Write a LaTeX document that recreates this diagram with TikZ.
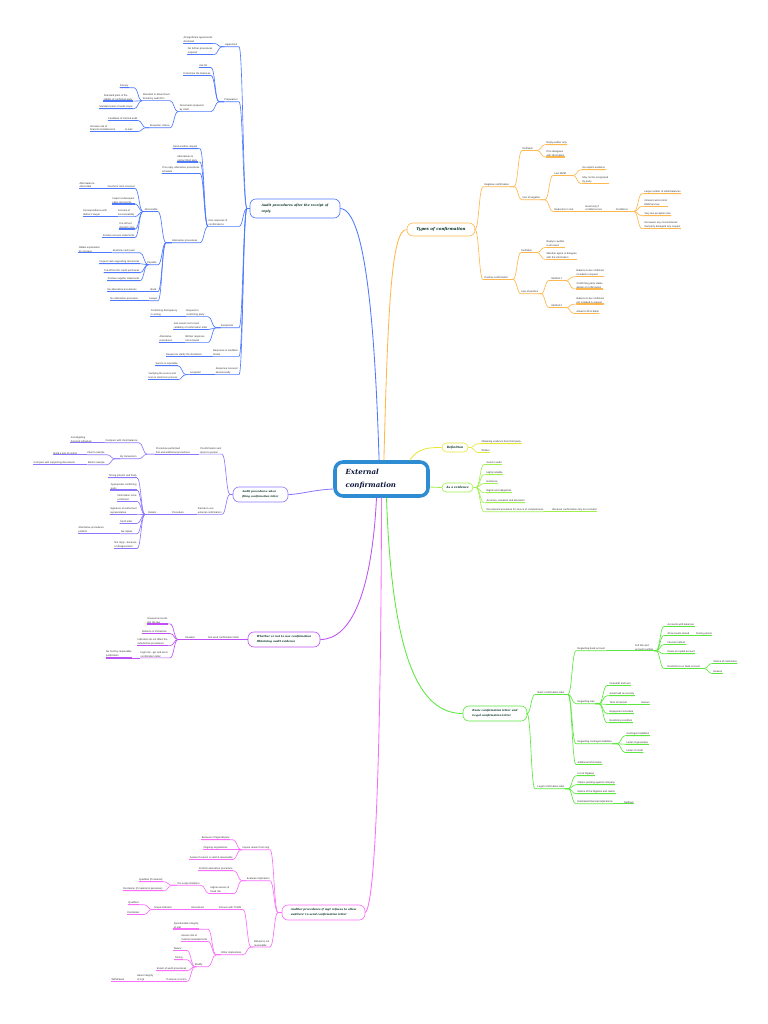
\documentclass[tikz,border=0pt]{standalone}
\usepackage{fontspec}
\setmainfont{Liberation Sans}
\newfontfamily\hdfont{DejaVu Serif}
\definecolor{cbl}{RGB}{77,121,255}
\definecolor{cor}{RGB}{255,184,77}
\definecolor{cye}{RGB}{232,232,60}
\definecolor{cli}{RGB}{160,240,80}
\definecolor{cgr}{RGB}{90,232,60}
\definecolor{clv}{RGB}{140,120,255}
\definecolor{cpu}{RGB}{190,80,245}
\definecolor{cpk}{RGB}{250,110,250}
\definecolor{ctx}{RGB}{50,50,50}
\definecolor{chd}{RGB}{0,45,30}
\definecolor{cce}{RGB}{45,140,210}
\definecolor{cct}{RGB}{15,25,60}
\newcommand\leaffont{\fontsize{3.6}{5.5}\selectfont}
\newcommand\rootfont{\hdfont\bfseries\itshape}
\newcommand\centerfont{\hdfont\bfseries\itshape\fontsize{10}{18}\selectfont}

\begin{document}
\begin{tikzpicture}[x=0.5mm, y=-0.5mm,
  tl/.style={anchor=east, font=\leaffont, text=ctx, inner sep=0.6pt, align=left},
  tr/.style={tl, anchor=west},
  root/.style={draw=#1, fill=white, line width=0.9pt, rounded corners=3mm, text=chd, align=left, inner xsep=1.5mm, inner ysep=0.8mm},
  ln/.style={draw=#1, line width=0.9pt},
  lf/.style={draw=#1, line width=2pt},
  br/.style={draw=#1, line width=1.2pt},
  tkl/.style={to path={-- (\tikztostart -| #1+4,0) .. controls (\tikztostart -| #1,0) and (\tikztotarget -| #1,0) .. (\tikztotarget -| #1-4,0) -- (\tikztotarget)}},
  tkr/.style={to path={-- (\tikztostart -| #1-4,0) .. controls (\tikztostart -| #1,0) and (\tikztotarget -| #1,0) .. (\tikztotarget -| #1+4,0) -- (\tikztotarget)}}]
\path[fill=white] (0,0) rectangle (768,1024);

\node[draw=cce, line width=5pt, rounded corners=4mm, fill=white, minimum width=46.5mm, minimum height=17mm, text width=36mm, inner xsep=5mm, font=\centerfont, text=cct, align=left] (C) at (381.5,479) {External\\confirmation};

\node[root=cbl, minimum width=45mm, minimum height=9.5mm, font={\rootfont\fontsize{4.6}{8}\selectfont}] (B) at (295,208.5) {Audit procedures after the receipt of\\reply};
\node[root=cor, minimum width=34mm, minimum height=6.5mm, font={\rootfont\fontsize{5.8}{7}\selectfont}] (O) at (441,229.5) {Types of confirmation};
\node[root=cye, minimum width=13mm, minimum height=4.5mm, rounded corners=2.2mm, font={\rootfont\fontsize{4.2}{5}\selectfont}] (Y) at (455,447.5) {Definition};
\node[root=cli, minimum width=15.5mm, minimum height=4.5mm, rounded corners=2.2mm, font={\rootfont\fontsize{4.2}{5}\selectfont}] (E) at (457.5,487.5) {As a evidence};
\node[root=cgr, minimum width=32mm, minimum height=7.5mm, font={\rootfont\fontsize{3.9}{7}\selectfont}] (G) at (495,713.5) {Basic confirmation letter and\\Legal confirmation letter};
\node[root=clv, minimum width=27.5mm, minimum height=7.5mm, font={\rootfont\fontsize{3.7}{7}\selectfont}] (L) at (260.5,494.5) {Audit procedures when\\filing confirmation letter};
\node[root=cpu, minimum width=36mm, minimum height=7.5mm, font={\rootfont\fontsize{3.9}{7}\selectfont}] (P) at (284,639.5) {Whether or not to use confirmation\\Obtaining audit evidence};
\node[root=cpk, minimum width=41.5mm, minimum height=7.5mm, font={\rootfont\fontsize{3.9}{7}\selectfont}] (K) at (323.5,912.5) {Auditor procedures if mgt refuses to allow\\auditors' to send confirmation letter};

\draw[br=cbl] ([xshift=-1.2mm]C.north) .. controls (375,330) and (366,210) .. (B.east);
\draw[br=cor] ([xshift=1.2mm]C.north) .. controls (388,300) and (392,229.5) .. (O.west);
\draw[br=cye] ([xshift=-10mm]C.north east) .. controls (418,448) and (428,447.5) .. (Y.west);
\draw[br=cli] ([yshift=-4mm]C.east) -- (E.west);
\draw[br=clv] ([yshift=-5mm]C.west) .. controls (312,490) and (300,494.5) .. (L.east);
\draw[br=cpu] ([xshift=-2.5mm]C.south) .. controls (372,590) and (352,639.5) .. (P.east);
\draw[br=cpk] (C.south) .. controls (381,760) and (375,905) .. (K.east);
\draw[br=cgr] ([xshift=2.5mm]C.south) .. controls (392,660) and (420,713.5) .. (G.west);

\node[tl] (b1) at (238,45) {Agreement};
\node[tl] (b11) at (213,40) {All significant agreements\\disclosed};
\node[tl] (b12) at (213,51) {No further procedures\\required};
\node[tl] (b2) at (238,100) {Preparation};
\node[tl] (b21) at (208,66) {Ask list};
\node[tl] (b22) at (211,74) {Determine the balances};
\node[tl] (b23) at (204,108) {Documents prepared\\by client};
\node[tl] (b231) at (170,97) {Standard or determined\\format by audit firm};
\node[tl] (b2311) at (129,86) {Privacy};
\node[tl] (b2312) at (133,97.5) {Standard parts of the\\liability of confirmed party};
\node[tl] (b2313) at (133,107) {Standard parts of audit scope};
\node[tl] (b232) at (170,126) {Exception criteria};
\node[tl] (b2321) at (138,119) {Feedback of internal audit};
\node[tl] (b2322) at (133,130) {E-mail};
\node[tl, anchor=south east] (b23221) at ([xshift=-4.5mm]b2322.south west) {Increase risk of\\financial misstatement};
\node[tl] (b3) at (228,223) {Non-response of\\confirmations};
\node[tl] (b31) at (198,147) {Send another request};
\node[tl] (b32) at (198,158.5) {Alternatives to\\contact third party};
\node[tl] (b33) at (200,170) {If no reply, alternative procedures\\schedule};
\node[tl] (b34) at (198,241) {Alternative procedures};
\node[tl] (b341) at (158,210) {Receivable};
\node[tl] (b3411) at (135,187) {Vouchers cash received};
\node[tl, anchor=south east] (b34111) at ([xshift=-6mm]b3411.south west) {After balance\\sheet date};
\node[tl] (b3412) at (135,200.5) {Inspect subsequent\\sales documents};
\node[tl] (b3413) at (135,213) {Account of\\irrecoverability};
\node[tl, anchor=south east] (b34131) at ([xshift=-5mm]b3413.south west) {Correspondence with\\debtor's lawyer};
\node[tl] (b3414) at (135,225.5) {Cut-off test\\dispatch note};
\node[tl] (b3415) at (135,236) {Positive account statements};
\node[tl] (b342) at (157,263) {Payable};
\node[tl] (b3421) at (135,251) {Examine cash paid};
\node[tl, anchor=south east] (b34211) at ([xshift=-6mm]b3421.south west) {Obtain explanation\\for increase};
\node[tl] (b3422) at (140,262) {Inspect cash supporting documents};
\node[tl] (b3423) at (140,271) {Cut-off test for credit purchases};
\node[tl] (b3424) at (140,279) {Positive supplier statements};
\node[tl] (b343) at (157,290) {Bank};
\node[tl, anchor=south east] (b3431) at ([xshift=-6.5mm]b343.south west) {No alternative procedures};
\node[tl] (b344) at (158,299) {Lawyer};
\node[tl, anchor=south east] (b3441) at ([xshift=-5mm]b344.south west) {No alternative procedure};
\node[tl] (b4) at (234,326) {Exceptions};
\node[tl] (b41) at (205,313) {Request to\\confirming party};
\node[tl, anchor=south east] (b411) at ([xshift=-4mm]b41.south west) {Confirming discrepancy\\in writing};
\node[tl] (b42) at (208,326) {Ask reason not to trust\\reliability of confirmation letter};
\node[tl] (b43) at (205,339) {Written response\\not received};
\node[tl, anchor=south east] (b431) at ([xshift=-6mm]b43.south west) {Alternative\\procedures};
\node[tl] (b5) at (238,353) {Response in modified\\format};
\node[tl, anchor=south east] (b51) at ([xshift=-5mm]b5.south west) {Request to clarify the disclaimer};
\node[tl] (b6) at (238,371) {Response received\\electronically};
\node[tl, anchor=south east] (b61) at ([xshift=-7mm]b6.south west) {Accepted};
\node[tl] (b611) at (178,364) {Source is reputable};
\node[tl] (b612) at (178,376) {Verifying the source and\\test on electronic process};

\node[tr] (o1) at (484,185) {Negative confirmation};
\node[tr] (o11) at (522,149) {Definition};
\node[tr] (o111) at (546,143) {Reply auditor only};
\node[tr] (o112) at (546,153.5) {If he disagrees\\with information};
\node[tr] (o12) at (522,198) {Use of negative};
\node[tr] (o121) at (554,174) {Low RMM};
\node[tr] (o1211) at (582,168) {No explicit evidence};
\node[tr] (o1212) at (582,180) {May not be recognized\\by party};
\node[tr] (o122) at (554,210) {Reduction in risk};
\node[tr, anchor=south west] (o1221) at ([xshift=5.5mm]o122.south east) {Good only if\\conditions met};
\node[tr, anchor=south west] (o12211) at ([xshift=6.5mm]o1221.south east) {Conditions};
\node[tr] (oc1) at (644,192) {Large number of small balances};
\node[tr] (oc2) at (644,203) {Inherent and control\\RMM are low};
\node[tr] (oc3) at (644,214) {Very low exception rate};
\node[tr] (oc4) at (644,225) {Not aware any circumstances\\that party disregard any request};
\node[tr] (o2) at (484,278) {Positive confirmation};
\node[tr] (o21) at (521,251) {Definition};
\node[tr] (o211) at (546,244) {Reply to auditor\\in all cases};
\node[tr] (o212) at (546,256) {Whether agree or disagree\\with the information};
\node[tr] (o22) at (521,292) {Use of positive};
\node[tr] (o221) at (551,279) {Method 1};
\node[tr] (o2211) at (576,273) {Balance to be confirmed\\included in request};
\node[tr] (o2212) at (576,285.5) {Confirming party states\\details of confirmation};
\node[tr] (o222) at (551,306) {Method 2};
\node[tr] (o2221) at (576,300.5) {Balance to be confirmed\\not included in request};
\node[tr] (o2222) at (576,312) {Asked to fill in blank};

\node[tr] (y1) at (481,442) {Obtaining evidence from third party};
\node[tr] (y2) at (481,451) {Written};

\node[tr] (e1) at (486,463) {Good in audit};
\node[tr] (e2) at (486,473) {Highly reliable};
\node[tr] (e3) at (486,482) {Existence};
\node[tr] (e4) at (486,491) {Rights and obligations};
\node[tr] (e5) at (486,501) {Accuracy, valuation and allocation};
\node[tr] (e6) at (486,510) {Not relevant procedure for source of completeness};
\node[tr, anchor=south west] (e61) at ([xshift=4mm]e6.south east) {Because confirmation only for recorded};

\node[tr] (g1) at (537,693) {Basic confirmation letter};
\node[tr] (g11) at (577,649) {Regarding bank account};
\node[tr, anchor=south west] (g111) at ([xshift=14.5mm]g11.south east) {Full title and\\account number};
\node[tr] (g1111) at (667,625) {Accounts with balances};
\node[tr] (g1112) at (667,634) {All accounts closed};
\node[tr, anchor=south west] (g11121) at ([xshift=3mm]g1112.south east) {During period};
\node[tr] (g1113) at (667,643) {Interest method};
\node[tr] (g1114) at (667,652) {Dates of unpaid account};
\node[tr] (g1115) at (667,667) {Restrictions on bank account};
\node[tr] (g11151) at (713,662) {Nature of restrictions};
\node[tr] (g11152) at (713,672) {Reason};
\node[tr] (g12) at (577,702) {Regarding loan};
\node[tr] (g121) at (609,684) {Overdraft and loan};
\node[tr] (g122) at (609,694) {Asset held as security};
\node[tr] (g123) at (609,703) {Term of interest};
\node[tr, anchor=south west] (g1231) at ([xshift=6.5mm]g123.south east) {Various};
\node[tr] (g124) at (609,712) {Repayment schedule};
\node[tr] (g125) at (609,721) {Restricting condition};
\node[tr] (g13) at (577,742) {Regarding contingent liabilities};
\node[tr] (g131) at (626,734) {Contingent liabilities};
\node[tr] (g132) at (626,742.5) {Letter of guarantee};
\node[tr] (g133) at (626,751) {Letter of credit};
\node[tr] (g14) at (577,763) {Additional information};
\node[tr] (g2) at (537,787) {Legal confirmation letter};
\node[tr] (g21) at (577,774) {List of litigation};
\node[tr] (g22) at (577,783) {Claims pending against company};
\node[tr] (g23) at (577,792) {Nature of the litigation and claims};
\node[tr] (g24) at (577,802) {Estimated financial implications};
\node[tr, anchor=south west] (g241) at ([xshift=5mm]g24.south east) {Outflows};

\node[tl] (l1) at (222,450.5) {If confirmation sent\\return to person};
\node[tl, anchor=south east] (l11) at ([xshift=-4.5mm]l1.south west) {Procedure performed\\first and additional procedures};
\node[tl] (l111) at (138,441) {Compare with client balance};
\node[tl, anchor=south east] (l1111) at ([xshift=-6.5mm]l111.south west) {Investigating\\financial individual};
\node[tl] (l112) at (137,457) {By transaction};
\node[tl] (l1121) at (105,453) {Client's sample};
\node[tl, anchor=south east] (l11211) at ([xshift=-4.5mm]l1121.south west) {Build a test of control};
\node[tl] (l1122) at (105,463) {Bank's sample};
\node[tl, anchor=south east] (l11221) at ([xshift=-6mm]l1122.south west) {Compare with supporting documents};
\node[tl] (l2) at (222,511) {Decide to use\\external confirmation};
\node[tl, anchor=south east] (l21) at ([xshift=-6.5mm]l2.south west) {Procedure};
\node[tl, anchor=south east] (l211) at ([xshift=-7.5mm]l21.south west) {Details};
\node[tl] (d1) at (137,476) {Timing (interim and final)};
\node[tl] (d2) at (137,486.5) {Appropriate confirming\\party};
\node[tl] (d3) at (137,498) {Information to be\\confirmed};
\node[tl] (d4) at (137,511) {Signature of authorised\\representative};
\node[tl] (d5) at (133,522) {Send letter};
\node[tl] (d6) at (133,532) {No replies};
\node[tl, anchor=south east] (d61) at ([xshift=-8mm]d6.south west) {Alternative procedures\\perform};
\node[tl] (d7) at (137,545) {Not reply - because\\of disagreement};

\node[tl, anchor=south east] (p1) at ([xshift=-4mm]P.west) {Not used confirmation letter};
\node[tl, anchor=south east] (p11) at ([xshift=-6mm]p1.south west) {Situation};
\node[tl] (s1) at (168,620.5) {Unusual accounts\\into the law};
\node[tl] (s2) at (167,632) {Balance is immaterial};
\node[tl] (s3) at (168,642) {Indicators do not affect the\\substantive procedures};
\node[tl] (s4) at (168,654.5) {High risk - get and send\\confirmation letter};
\node[tl, anchor=south east] (s41) at ([xshift=-4mm]s4.south west) {No trust by reasonable\\justification};

\node[tl] (k1) at (270,848) {Inquire reason from mgt};
\node[tl] (k11) at (230,838) {Because of legal dispute};
\node[tl] (k12) at (228,848) {Ongoing negotiations};
\node[tl] (k13) at (233,858) {Assess if reason is valid \& reasonable};
\node[tl] (k2) at (270,879) {Evaluate implication};
\node[tl] (k21) at (233,869) {Perform alternative procedure};
\node[tl] (k22) at (230,890) {Higher assess of\\fraud risk};
\node[tl] (k221) at (200,883.5) {If is scope limitation};
\node[tl] (k2211) at (163,880) {Qualified (if material)};
\node[tl] (k2212) at (163,889) {Disclaimer (if material \& pervasive)};
\node[tl] (k3) at (270,943.5) {Refusal is not\\reasonable};
\node[tl] (k31) at (242,908) {Discuss with TCWG};
\node[tl, anchor=south east] (k311) at ([xshift=-7mm]k31.south west) {Unresolved};
\node[tl, anchor=south east] (k3111) at ([xshift=-9mm]k311.south west) {Scope limitation};
\node[tl] (k31111) at (139,903) {Qualified};
\node[tl] (k31112) at (140,913) {Disclaimer};
\node[tl] (k32) at (242,953) {Other implications};
\node[tl] (k321) at (199,925.5) {Questionable integrity\\of mgt};
\node[tl] (k322) at (208,938) {Assess risk of\\material misstatements};
\node[tl] (k323) at (203,965) {Modify};
\node[tl] (n1) at (182,949) {Nature};
\node[tl] (n2) at (183,958) {Timing};
\node[tl] (n3) at (187,969) {Extent of audit procedures};
\node[tl] (n4) at (187,980) {If serious concern};
\node[tl, anchor=south east] (n41) at ([xshift=-6mm]n4.south west) {About integrity\\of mgt};
\node[tl, anchor=south east] (n411) at ([xshift=-6mm]n41.south west) {Withdrawal};

\foreach \p/\c/\x in {B.west/b1/243, B.west/b2/243, B.west/b3/243, B.west/b4/243, B.west/b5/243, B.west/b6/243,
  b1.south west/b11/218, b1.south west/b12/218, b2.south west/b21/215, b2.south west/b22/215, b2.south west/b23/215,
  b23.south west/b231/174, b23.south west/b232/174, b231.south west/b2311/138, b231.south west/b2312/138, b231.south west/b2313/138,
  b232.south west/b2321/142, b232.south west/b2322/142, b3.south west/b31/204, b3.south west/b32/204, b3.south west/b33/204, b3.south west/b34/204,
  b34.south west/b341/162, b34.south west/b342/162, b34.south west/b343/162, b34.south west/b344/162,
  b341.south west/b3411/139, b341.south west/b3412/139, b341.south west/b3413/139, b341.south west/b3414/139, b341.south west/b3415/139,
  b342.south west/b3421/144, b342.south west/b3422/144, b342.south west/b3423/144, b342.south west/b3424/144,
  b4.south west/b41/212, b4.south west/b42/212, b4.south west/b43/212, b61.south west/b611/182, b61.south west/b612/182}
  \draw[ln=cbl] (\p) to[tkl=\x] (\c.south east) -- (\c.south west);
\foreach \p/\c in {b2322/b23221, b3411/b34111, b3413/b34131, b3421/b34211, b343/b3431, b344/b3441, b41/b411, b43/b431, b5/b51, b6/b61}
  \draw[ln=cbl] (\p.south west) -- (\c.south east) -- (\c.south west);
\foreach \c in {b11,b12,b21,b22,b2311,b2312,b2313,b2321,b23221,b31,b32,b33,b34111,b3412,b34131,b3414,b3415,b34211,b3422,b3423,b3424,b3431,b3441,b411,b42,b431,b51,b611,b612}
  \draw[lf=cbl] (\c.south west) -- (\c.south east);

\foreach \p/\c/\x in {O.east/o1/479, O.east/o2/479, o1.south east/o11/518, o1.south east/o12/518,
  o11.south east/o111/541, o11.south east/o112/541, o12.south east/o121/549, o12.south east/o122/549,
  o121.south east/o1211/577, o121.south east/o1212/577, o12211.south east/oc1/638, o12211.south east/oc2/638, o12211.south east/oc3/638, o12211.south east/oc4/638,
  o2.south east/o21/517, o2.south east/o22/517, o21.south east/o211/541, o21.south east/o212/541, o22.south east/o221/545, o22.south east/o222/545,
  o221.south east/o2211/570, o221.south east/o2212/570, o222.south east/o2221/570, o222.south east/o2222/570}
  \draw[ln=cor] (\p) to[tkr=\x] (\c.south west) -- (\c.south east);
\foreach \p/\c in {o122/o1221, o1221/o12211}
  \draw[ln=cor] (\p.south east) -- (\c.south west) -- (\c.south east);
\foreach \c in {o111,o112,o1211,o1212,oc1,oc2,oc3,oc4,o211,o212,o2211,o2212,o2221,o2222}
  \draw[lf=cor] (\c.south west) -- (\c.south east);

\foreach \c in {y1,y2} \draw[ln=cye] (Y.east) to[tkr=474] (\c.south west) -- (\c.south east);
\foreach \c in {y1,y2} \draw[lf=cye] (\c.south west) -- (\c.south east);

\foreach \c in {e1,e2,e3,e4,e5,e6} \draw[ln=cli] (E.east) to[tkr=480] (\c.south west) -- (\c.south east);
\draw[ln=cli] (e6.south east) -- (e61.south west) -- (e61.south east);
\foreach \c in {e1,e2,e3,e4,e5,e61} \draw[lf=cli] (\c.south west) -- (\c.south east);

\foreach \p/\c/\x in {G.east/g1/531, G.east/g2/531, g1.south east/g11/572, g1.south east/g12/572, g1.south east/g13/572, g1.south east/g14/572,
  g111.south east/g1111/660, g111.south east/g1112/660, g111.south east/g1113/660, g111.south east/g1114/660, g111.south east/g1115/660,
  g1115.south east/g11151/708, g1115.south east/g11152/708,
  g12.south east/g121/603, g12.south east/g122/603, g12.south east/g123/603, g12.south east/g124/603, g12.south east/g125/603,
  g13.south east/g131/621, g13.south east/g132/621, g13.south east/g133/621,
  g2.south east/g21/572, g2.south east/g22/572, g2.south east/g23/572, g2.south east/g24/572}
  \draw[ln=cgr] (\p) to[tkr=\x] (\c.south west) -- (\c.south east);
\foreach \p/\c in {g11/g111, g1112/g11121, g123/g1231, g24/g241}
  \draw[ln=cgr] (\p.south east) -- (\c.south west) -- (\c.south east);
\foreach \c in {g1111,g11121,g1113,g1114,g11151,g11152,g121,g122,g1231,g124,g125,g131,g132,g133,g14,g21,g22,g23,g241}
  \draw[lf=cgr] (\c.south west) -- (\c.south east);

\foreach \p/\c/\x in {L.west/l1/226, L.west/l2/226, l11.south west/l111/143, l11.south west/l112/143,
  l112.south west/l1121/111, l112.south west/l1122/111,
  l211.south west/d1/141, l211.south west/d2/141, l211.south west/d3/141, l211.south west/d4/141, l211.south west/d5/141, l211.south west/d6/141, l211.south west/d7/141}
  \draw[ln=clv] (\p) to[tkl=\x] (\c.south east) -- (\c.south west);
\foreach \p/\c in {l1/l11, l111/l1111, l1121/l11211, l1122/l11221, l2/l21, l21/l211, d6/d61}
  \draw[ln=clv] (\p.south west) -- (\c.south east) -- (\c.south west);
\foreach \c in {l1111,l11211,l11221,d1,d2,d3,d4,d5,d61,d7}
  \draw[lf=clv] (\c.south west) -- (\c.south east);

\draw[ln=cpu] (P.west) -- (p1.south east) -- (p1.south west) -- (p11.south east) -- (p11.south west);
\foreach \c in {s1,s2,s3,s4} \draw[ln=cpu] (p11.south west) to[tkl=174] (\c.south east) -- (\c.south west);
\draw[ln=cpu] (s4.south west) -- (s41.south east) -- (s41.south west);
\foreach \c in {s1,s2,s3,s41} \draw[lf=cpu] (\c.south west) -- (\c.south east);

\foreach \p/\c/\x in {K.west/k1/274, K.west/k2/274, K.west/k3/274, k1.south west/k11/237, k1.south west/k12/237, k1.south west/k13/237,
  k2.south west/k21/238, k2.south west/k22/238, k22.south west/k221/205, k221.south west/k2211/168, k221.south west/k2212/168,
  k3.south west/k31/247, k3.south west/k32/247, k3111.south west/k31111/148, k3111.south west/k31112/148,
  k32.south west/k321/212, k32.south west/k322/212, k32.south west/k323/212,
  k323.south west/n1/191, k323.south west/n2/191, k323.south west/n3/191, k323.south west/n4/191}
  \draw[ln=cpk] (\p) to[tkl=\x] (\c.south east) -- (\c.south west);
\foreach \p/\c in {k31/k311, k311/k3111, n4/n41, n41/n411}
  \draw[ln=cpk] (\p.south west) -- (\c.south east) -- (\c.south west);
\foreach \c in {k11,k12,k13,k21,k2211,k2212,k31111,k31112,k321,k322,n1,n2,n3,n411}
  \draw[lf=cpk] (\c.south west) -- (\c.south east);
\end{tikzpicture}
\end{document}
